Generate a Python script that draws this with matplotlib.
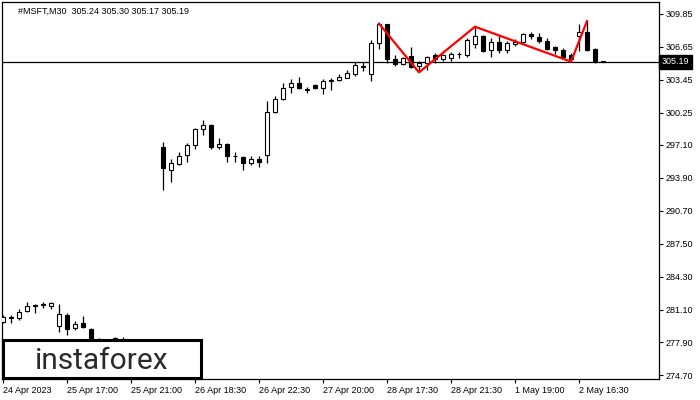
import matplotlib
matplotlib.use("Agg")
import matplotlib.pyplot as plt

# 30-minute candles of #MSFT, 24 Apr 2023 .. 2 May 2023
opens = [279.9, 280.3, 280.3, 281.0, 281.45, 281.55, 281.4, 279.5, 280.6, 279.3,
         279.8, 279.2, 278.0, 278.1, 278.2, 278.2, 277.8, 277.2, 276.6, 276.0,
         296.92, 294.65, 295.27, 296.1, 297.1, 298.67, 299.08, 296.88, 297.24, 296.0,
         295.95, 295.37, 295.76, 296.1, 300.3, 301.6, 302.74, 303.13, 302.45, 302.9,
         302.64, 303.3, 303.4, 303.6, 304.0, 304.7, 304.0, 307.0, 308.85, 305.5,
         304.95, 305.78, 304.74, 305.07, 305.85, 305.5, 305.6, 305.9, 305.85, 306.9,
         307.65, 306.35, 307.1, 306.3, 306.9, 307.1, 307.9, 307.6, 307.25, 306.6,
         306.35, 305.85, 307.65, 308.1, 306.45, 305.24]
highs = [280.6, 280.6, 281.2, 281.8, 281.6, 281.8, 281.8, 281.6, 280.8, 280.0,
         280.5, 279.3, 278.3, 278.15, 278.45, 278.45, 277.9, 277.4, 276.8, 276.2,
         297.37, 295.76, 296.44, 297.3, 298.76, 299.57, 299.18, 297.79, 297.3, 296.4,
         296.0, 296.0, 296.0, 301.4, 301.9, 303.1, 303.5, 303.7, 302.7, 303.0,
         303.5, 303.6, 304.0, 304.4, 305.2, 305.2, 307.3, 308.9, 308.9, 305.85,
         305.7, 306.6, 305.3, 305.78, 306.0, 305.95, 306.1, 306.1, 307.5, 308.6,
         307.8, 307.5, 307.8, 307.2, 307.4, 308.0, 308.1, 308.0, 307.5, 306.7,
         306.5, 306.0, 308.85, 309.15, 306.5, 305.30]
lows = [279.8, 279.8, 280.1, 280.9, 280.8, 281.3, 281.2, 278.9, 278.6, 279.1,
        279.3, 277.2, 277.6, 277.5, 277.9, 277.7, 277.0, 276.4, 275.8, 275.2,
        292.71, 293.49, 295.2, 295.4, 296.72, 298.11, 296.72, 296.72, 295.4, 295.4,
        294.65, 295.2, 295.0, 295.3, 300.2, 301.45, 302.2, 302.5, 302.2, 302.5,
        302.1, 302.4, 303.3, 303.6, 303.85, 304.25, 303.3, 306.4, 305.1, 304.74,
        304.9, 304.58, 304.16, 304.35, 305.1, 305.3, 305.25, 305.6, 305.7, 306.5,
        306.1, 305.7, 306.0, 306.0, 306.7, 307.0, 307.4, 307.0, 306.3, 305.9,
        305.6, 305.2, 306.2, 306.2, 305.1, 305.17]
closes = [280.4, 280.35, 280.9, 281.4, 281.5, 281.6, 281.75, 280.7, 279.2, 279.7,
          279.4, 278.0, 278.2, 277.7, 278.3, 277.8, 277.2, 276.6, 276.0, 275.4,
          294.88, 295.37, 296.01, 297.05, 298.67, 299.08, 296.88, 297.24, 296.01, 296.05,
          295.37, 295.7, 295.43, 300.27, 301.6, 302.64, 303.13, 302.64, 302.5, 302.64,
          303.28, 303.45, 303.7, 304.1, 304.9, 304.8, 307.0, 308.85, 305.5, 304.95,
          305.6, 304.68, 305.07, 305.65, 305.5, 305.8, 305.9, 305.95, 307.3, 307.65,
          306.25, 307.1, 306.3, 307.0, 307.1, 307.85, 307.65, 307.2, 306.45, 306.3,
          305.7, 305.45, 308.1, 306.35, 305.29, 305.19]

tick_labels = ["24 Apr 2023", "25 Apr 17:00", "25 Apr 21:00", "26 Apr 18:30", "26 Apr 22:30",
               "27 Apr 20:00", "28 Apr 17:30", "28 Apr 21:30", "1 May 19:00", "2 May 16:30"]
price_ticks = [309.85, 306.65, 303.45, 300.25, 297.10, 293.90, 290.70, 287.50,
               284.30, 281.10, 277.90, 274.70]

# pattern line drawn over the candles (bar index, price)
pattern_bars = [47, 52, 59, 71, 73]
pattern_prices = [308.9, 304.16, 308.6, 305.2, 309.15]

last_price = 305.19


def main():
    plt.rcParams['font.family'] = ['Liberation Sans', 'DejaVu Sans']
    fig = plt.figure(figsize=(7, 4), dpi=100)
    ax = fig.add_axes([2 / 700, 21 / 400, 657 / 700, 377 / 400])

    n = len(opens)
    x = list(range(n))
    ax.vlines(x, lows, highs, color='black', linewidth=0.9, zorder=2)
    bottoms = [min(o, c) for o, c in zip(opens, closes)]
    heights = [max(abs(c - o), 0.03) for o, c in zip(opens, closes)]
    colors = ['white' if c >= o else 'black' for o, c in zip(opens, closes)]
    ax.bar(x, heights, bottom=bottoms, width=0.6, color=colors,
           edgecolor='black', linewidth=0.8, zorder=3)

    ax.axhline(last_price, color='black', linewidth=0.9, zorder=1)
    ax.plot(pattern_bars, pattern_prices, color='#ff0000', linewidth=1.6, zorder=4)

    ax.set_xlim(-0.125, 82)
    ax.set_ylim(274.35, 311.0)

    ax.yaxis.tick_right()
    ax.set_yticks(price_ticks)
    ax.set_yticklabels(["%.2f" % p for p in price_ticks])
    ax.set_xticks(list(range(0, n, 8))[:len(tick_labels)])
    ax.set_xticklabels(tick_labels, ha='left')
    ax.tick_params(axis='both', labelsize=6.5, length=3, width=0.8, pad=2, colors='black')
    for s in ax.spines.values():
        s.set_linewidth(0.9)

    ax.text(1.004, last_price, "%.2f" % last_price, transform=ax.get_yaxis_transform(),
            ha='left', va='center', fontsize=6.5, color='white',
            bbox=dict(facecolor='black', edgecolor='black', pad=1.8))

    ax.text(0.024, 0.988, "#MSFT,M30  305.24 305.30 305.17 305.19",
            transform=ax.transAxes, ha='left', va='top', fontsize=6.5)

    logo = fig.add_axes([3 / 700, 22 / 400, 198 / 700, 38 / 400])
    logo.set_xticks([])
    logo.set_yticks([])
    logo.set_facecolor('white')
    for s in logo.spines.values():
        s.set_linewidth(2.2)
    logo.text(0.5, 0.45, "instaforex", ha='center', va='center', fontsize=21.5,
              color='#2a2a2a', family='Roboto', transform=logo.transAxes)

    fig.savefig("out.png", dpi=100)


if __name__ == '__main__':
    main()
